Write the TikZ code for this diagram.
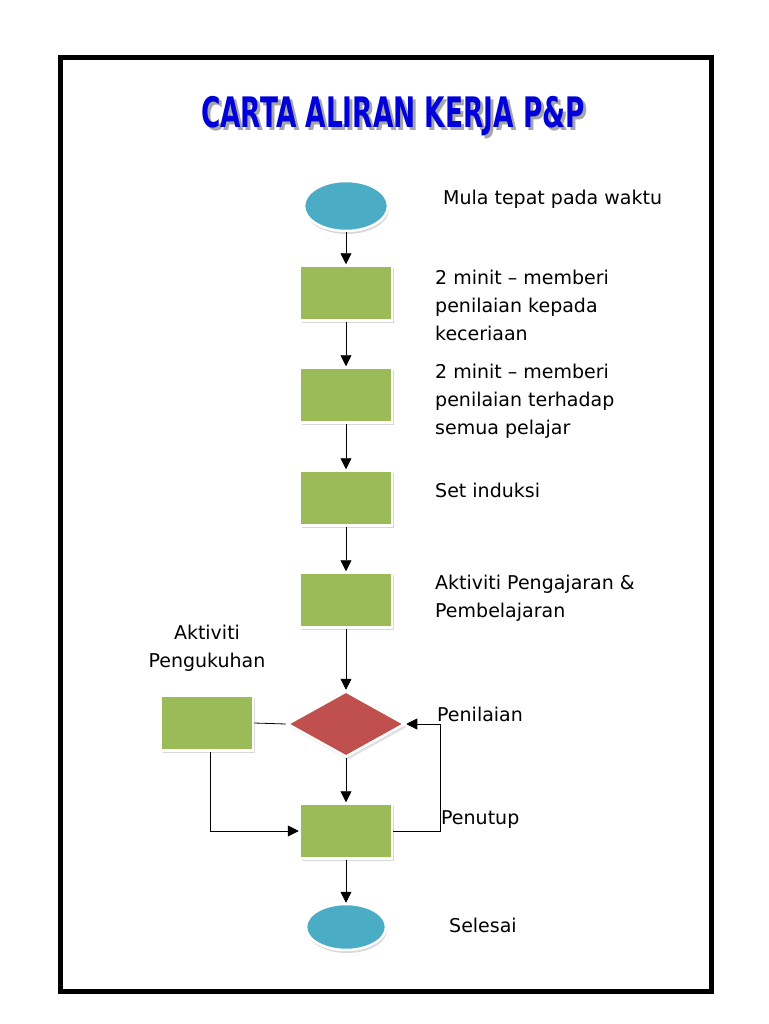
\documentclass[tikz,border=0pt]{standalone}
\usepackage{fontspec}
\setmainfont{DejaVu Sans}
\usetikzlibrary{shapes.geometric,arrows.meta,shadows}
\definecolor{gr}{HTML}{9BBB59}
\definecolor{rd}{HTML}{C0504D}
\definecolor{bl}{HTML}{4BACC6}
\tikzset{
 box/.style={draw=white,line width=2.5pt,fill=gr,minimum width=92pt,minimum height=55pt,inner sep=0pt,drop shadow={shadow xshift=2pt,shadow yshift=-2pt,fill=gray!60}},
 oval/.style={ellipse,draw=white,line width=2.5pt,fill=bl,minimum width=#1,inner sep=0pt,drop shadow={shadow xshift=1pt,shadow yshift=-3pt,fill=gray!60}},
 dia/.style={diamond,aspect=1.8,draw=white,line width=2.5pt,fill=rd,minimum width=118pt,minimum height=66pt,inner sep=0pt,drop shadow={shadow xshift=2pt,shadow yshift=-3pt,fill=gray!50}},
 lab/.style={anchor=west,align=left,font=\fontsize{19}{28}\selectfont,inner sep=0pt},
 arr/.style={-{Triangle[length=11pt,width=11pt]},line width=0.8pt},
 ln/.style={line width=0.8pt}
}
\newcommand\ttl{\scalebox{0.66}[1.05]{CARTA ALIRAN KERJA P\&P}}
\begin{document}
\begin{tikzpicture}[x=1pt,y=-1pt]
\useasboundingbox (0,0) rectangle (768,1024);
\draw[line width=5pt] (60,58) rectangle (711,991);
\node (title) [text=blue!85!black,font=\bfseries\fontsize{40}{40}\selectfont] at (393,118) {\makebox[0pt][l]{\hspace{3pt}\raisebox{-3pt}{\textcolor{gray!70}{\ttl}}}\ttl};
\node (s) [oval=84pt,minimum height=50pt] at (346,206) {};
\node (r1) [box] at (346,293) {};
\node (r2) [box] at (346,395) {};
\node (r3) [box] at (346,498) {};
\node (r4) [box] at (346,600) {};
\node (d) [dia] at (346,724) {};
\node (l) [box] at (207,723) {};
\node (p) [box] at (346,831) {};
\node (e) [oval=80pt,minimum height=46pt] at (346,927) {};
\node (t1) [lab] at (443,199) {Mula tepat pada waktu};
\node (t2) [lab] at (435,305) {2 minit – memberi\\penilaian kepada\\keceriaan};
\node (t3) [lab] at (435,401) {2 minit – memberi\\penilaian terhadap\\semua pelajar};
\node (t4) [lab] at (435,490) {Set induksi};
\node (t5) [lab] at (435,598) {Aktiviti Pengajaran \&\\Pembelajaran};
\node (t6) [align=center,font=\fontsize{19}{28}\selectfont,inner sep=0pt] at (207,648) {Aktiviti\\Pengukuhan};
\node (t7) [lab] at (437,714) {Penilaian};
\node (t8) [lab] at (441,820) {Penutup};
\node (t9) [lab] at (449,925) {Selesai};
\draw[arr] (s) -- (r1);
\draw[arr] (r1) -- (r2);
\draw[arr] (r2) -- (r3);
\draw[arr] (r3) -- (r4);
\draw[arr] (r4) -- (d);
\draw[arr] (d) -- (p);
\draw[arr] (p) -- (e);
\draw[ln] (l.east) -- (d.west);
\draw[arr] (l.south -| 210,0) |- (p.west);
\draw[arr] (p.east) -| (440,724) -- (d.east);
\end{tikzpicture}
\end{document}
